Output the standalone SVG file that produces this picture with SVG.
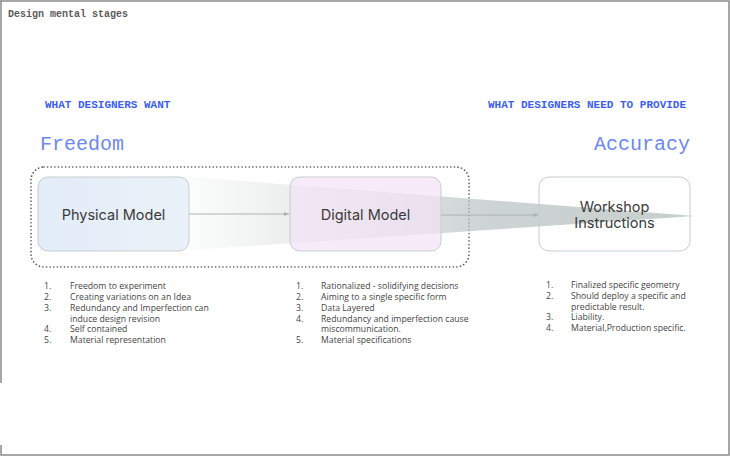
<svg xmlns="http://www.w3.org/2000/svg" width="730" height="456" viewBox="0 0 730 456">
<defs>
<linearGradient id="wedge" x1="190" y1="0" x2="695" y2="0" gradientUnits="userSpaceOnUse">
<stop offset="0" stop-color="#b9c3c1" stop-opacity="0.05"/>
<stop offset="0.6" stop-color="#b9c3c1" stop-opacity="0.72"/>
<stop offset="1" stop-color="#b9c3c1" stop-opacity="0.8"/>
</linearGradient>
<linearGradient id="phys" x1="0" y1="0" x2="1" y2="0">
<stop offset="0" stop-color="#e3edf8"/>
<stop offset="1" stop-color="#eaf1f8"/>
</linearGradient>
<marker id="arr" viewBox="0 0 6 6" refX="6" refY="3" markerWidth="5" markerHeight="5" orient="auto">
<path d="M0,0.5 L6,3 L0,5.5 z" fill="#aab4b4"/>
</marker>
</defs>
<style>
.frame{stroke:#8a8a8a;stroke-width:1.5;fill:none}
.title{font-family:"Liberation Mono",monospace;font-size:10px;font-weight:bold;fill:#5a5a5a}
.head{font-family:"Liberation Mono",monospace;font-size:11px;font-weight:bold;fill:#3d5ff2}
.big{font-family:"Liberation Mono",monospace;font-size:20px;fill:#6b88f0}
.box{stroke:#c5cdd0;stroke-width:1}
.lbl{font-family:Inter,"Noto Sans",sans-serif;font-size:14.5px;fill:#3a3a3a;text-anchor:middle}
.li{font-family:"Open Sans","Noto Sans",sans-serif;font-size:8.7px;fill:#444}
.conn{stroke:#aab4b4;stroke-width:1;fill:none}
</style>
<rect width="730" height="456" fill="#ffffff"/>
<path class="frame" d="M0,1 H729 V455 H1 V445 M1,383 V1"/>
<text class="title" x="8" y="17">Design mental stages</text>
<text class="head" x="45" y="107.5">WHAT DESIGNERS WANT</text>
<text class="head" x="488" y="107.5">WHAT DESIGNERS NEED TO PROVIDE</text>
<text class="big" x="40" y="150">Freedom</text>
<text class="big" x="690" y="150" text-anchor="end">Accuracy</text>
<rect x="31" y="167" width="438" height="100" rx="13" fill="none" stroke="#555" stroke-width="1.6" stroke-dasharray="0.1 3.5" stroke-linecap="round"/>
<g id="wedge-shape">
<polygon points="190,177 695,216 190,250" fill="url(#wedge)"/>
</g>
<g id="physical-model">
<rect class="box" x="38" y="177" width="151" height="74" rx="10" fill="url(#phys)"/>
<text class="lbl" x="113.5" y="220">Physical Model</text>
</g>
<g id="digital-model">
<rect class="box" x="290" y="177" width="151" height="74" rx="10" fill="#f3e2f6" fill-opacity="0.7"/>
<text class="lbl" x="365.5" y="220">Digital Model</text>
</g>
<g id="workshop-instructions">
<rect class="box" x="539" y="177" width="151" height="74" rx="10" fill="none"/>
<text class="lbl" x="614.5" y="212">Workshop</text>
<text class="lbl" x="614.5" y="228">Instructions</text>
</g>
<g id="connectors">
<line class="conn" x1="189" y1="214" x2="289" y2="214" marker-end="url(#arr)"/>
<line class="conn" x1="441" y1="215" x2="538" y2="215" marker-end="url(#arr)"/>
</g>
<g id="list-physical">
<text class="li" x="44" y="289">1.</text><text class="li" x="70" y="289">Freedom to experiment</text>
<text class="li" x="44" y="300">2.</text><text class="li" x="70" y="300">Creating variations on an Idea</text>
<text class="li" x="44" y="311">3.</text><text class="li" x="70" y="311">Redundancy and Imperfection can</text>
<text class="li" x="70" y="321.5">induce design revision</text>
<text class="li" x="44" y="332">4.</text><text class="li" x="70" y="332">Self contained</text>
<text class="li" x="44" y="343">5.</text><text class="li" x="70" y="343">Material representation</text>
</g>
<g id="list-digital">
<text class="li" x="296" y="289">1.</text><text class="li" x="321" y="289">Rationalized  - solidifying decisions</text>
<text class="li" x="296" y="300">2.</text><text class="li" x="321" y="300">Aiming to a single specific form</text>
<text class="li" x="296" y="311">3.</text><text class="li" x="321" y="311">Data Layered</text>
<text class="li" x="296" y="321.5">4.</text><text class="li" x="321" y="321.5">Redundancy and imperfection cause</text>
<text class="li" x="321" y="332">miscommunication.</text>
<text class="li" x="296" y="343">5.</text><text class="li" x="321" y="343">Material specifications</text>
</g>
<g id="list-workshop">
<text class="li" x="546" y="288">1.</text><text class="li" x="571" y="288">Finalized specific geometry</text>
<text class="li" x="546" y="299">2.</text><text class="li" x="571" y="299">Should deploy a specific and</text>
<text class="li" x="571" y="309.5">predictable result.</text>
<text class="li" x="546" y="320">3.</text><text class="li" x="571" y="320">Liability.</text>
<text class="li" x="546" y="331">4.</text><text class="li" x="571" y="331">Material,Production specific.</text>
</g>
</svg>
